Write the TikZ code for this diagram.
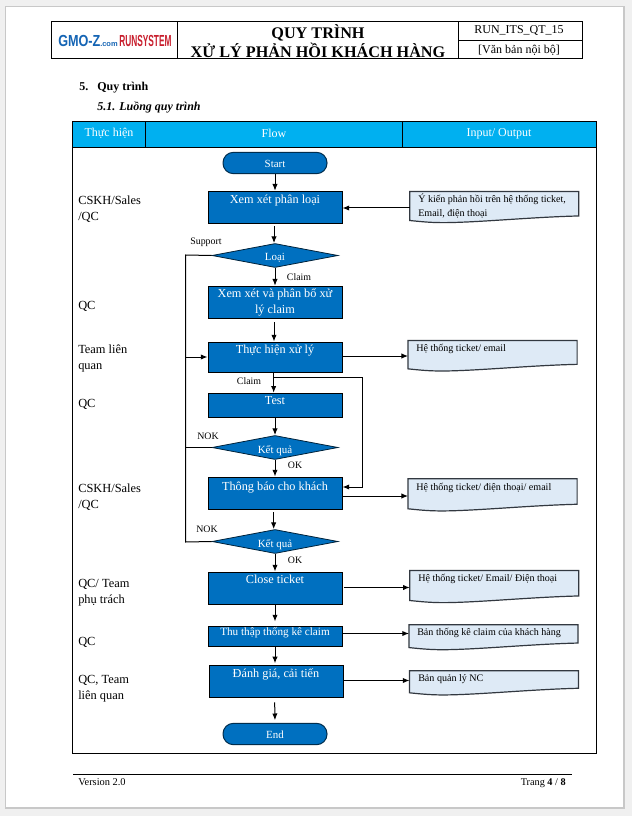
\documentclass[tikz,border=0pt]{standalone}
\usepackage{fontspec}
\setmainfont{Liberation Serif}
\newfontfamily\logofont{Liberation Sans}
\usetikzlibrary{arrows.meta,shapes.geometric}
\definecolor{procblue}{RGB}{0,112,192}
\definecolor{headblue}{RGB}{0,176,240}
\definecolor{docfill}{RGB}{222,234,246}
\definecolor{docline}{RGB}{50,56,64}
\definecolor{pagegray}{RGB}{240,240,240}
\definecolor{pageedge}{RGB}{200,200,200}
\definecolor{logoblue}{RGB}{20,100,180}
\definecolor{logored}{RGB}{200,30,45}
\tikzset{
  x=0.75pt,y=-0.75pt,
  grid line/.style={draw=black,line width=0.75pt},
  flow/.style={draw=black,line width=0.75pt,-{Latex[length=5pt,width=4pt]}},
  plainline/.style={draw=black,line width=0.75pt},
  proc/.style={rectangle,draw=black,fill=procblue,line width=0.75pt,inner sep=0pt,minimum width=100.5pt},
  deci/.style={diamond,draw=black!70!procblue,fill=procblue,line width=0.6pt,inner sep=0pt,aspect=5.2,minimum width=94.5pt,minimum height=18pt},
  term/.style={rectangle,rounded corners=7.8pt,draw=black!60!procblue,fill=procblue,line width=0.75pt,inner sep=0pt,minimum width=78pt,minimum height=16pt},
  wtext/.style={text=white,font=\fontsize{9.2pt}{11pt}\selectfont,inner sep=0pt,align=center},
  stext/.style={text=white,font=\fontsize{8.2pt}{9pt}\selectfont,inner sep=0pt},
  role/.style={anchor=north west,inner sep=0pt,align=left,font=\fontsize{9.3pt}{12pt}\selectfont},
  small/.style={inner sep=0pt,font=\fontsize{7.4pt}{8pt}\selectfont},
  docbox/.style={minimum width=126.4pt,inner sep=0pt},
  doctext/.style={anchor=west,inner sep=0pt,font=\fontsize{7.55pt}{10pt}\selectfont,align=left},
  headtext/.style={text=white,font=\fontsize{9pt}{11pt}\selectfont,inner sep=0pt},
}
\newcommand{\docpath}[1]{%
  \path[draw=docline,fill=docfill,line width=0.9pt]
    (#1.north west) -- (#1.north east) -- (#1.south east)
    .. controls ([xshift=-35pt,yshift=-0.8pt]#1.south east) and ([xshift=50pt,yshift=-5pt]#1.south west) ..
       ([xshift=25pt,yshift=-5pt]#1.south west)
    .. controls ([xshift=15pt,yshift=-5pt]#1.south west) and ([xshift=8pt,yshift=-4.2pt]#1.south west) ..
       ([yshift=-3.4pt]#1.south west) -- cycle;}
\begin{document}
\begin{tikzpicture}
\useasboundingbox (0,0) rectangle (632,816);
% page
\fill[pagegray] (0,0) rectangle (632,816);
\draw[fill=white,draw=pageedge,line width=0.9pt] (5.5,6.5) rectangle (624,808);
% title block
\node[rectangle,grid line,minimum width=398.25pt,minimum height=27.75pt,inner sep=0pt] (titleblock) at (316.5,40.5) {};
\draw[grid line] (177,22) -- (177,59) (458,22) -- (458,59) (458,40.5) -- (582,40.5);
\node[anchor=base west,inner sep=0pt,font=\logofont\bfseries\fontsize{12pt}{14pt}\selectfont,text=logoblue] (logoa) at (58,47) {\scalebox{0.79}[1]{GMO-Z}};
\node[anchor=base west,inner sep=0pt,font=\logofont\bfseries\fontsize{5.6pt}{7pt}\selectfont,text=logoblue] (logoc) at (100,47) {.com};
\node[anchor=base west,inner sep=0pt,font=\logofont\bfseries\fontsize{12pt}{14pt}\selectfont,text=logored] (logob) at (119,47) {\scalebox{0.52}[1]{RUNSYSTEM}};
\node[inner sep=0pt,font=\bfseries\fontsize{12.15pt}{14pt}\selectfont] (title1) at (318,32.5) {QUY TRÌNH};
\node[inner sep=0pt,font=\bfseries\fontsize{12.15pt}{14pt}\selectfont] (title2) at (318,50.5) {XỬ LÝ PHẢN HỒI KHÁCH HÀNG};
\node[inner sep=0pt,font=\fontsize{9pt}{11pt}\selectfont] (code) at (519,31) {RUN\_ITS\_QT\_15};
\node[inner sep=0pt,font=\fontsize{9pt}{11pt}\selectfont] (intern) at (519,50) {[Văn bản nội bộ]};
% section
\node[anchor=base west,inner sep=0pt,font=\bfseries\fontsize{9pt}{11pt}\selectfont] (sec) at (79,90.5) {5.};
\node[anchor=base west,inner sep=0pt,font=\bfseries\fontsize{9pt}{11pt}\selectfont] (sectitle) at (97,90.5) {Quy trình};
\node[anchor=base west,inner sep=0pt,font=\bfseries\itshape\fontsize{9pt}{11pt}\selectfont] (subsec) at (97,111) {5.1. Luồng quy trình};
% table
\fill[headblue] (72,122) rectangle (596,148);
\draw[grid line] (72,122) rectangle (596,753);
\draw[grid line] (72,148) -- (596,148) (145,122) -- (145,148) (402.5,122) -- (402.5,148);
\node[headtext] (h1) at (109,133) {Thực hiện};
\node[headtext] (h2) at (274,133.5) {Flow};
\node[headtext] (h3) at (499,133.5) {Input/ Output};
% roles
\node[role] (r1) at (78,196) {CSKH/Sales\\/QC};
\node[role] (r2) at (78,301) {QC};
\node[role] (r3) at (78,345) {Team liên\\quan};
\node[role] (r4) at (78,399) {QC};
\node[role] (r5) at (78,484) {CSKH/Sales\\/QC};
\node[role] (r6) at (78,579) {QC/ Team\\phụ trách};
\node[role] (r7) at (78,637) {QC};
\node[role] (r8) at (78,675) {QC, Team\\liên quan};
% process
\node[term] (start) at (275,163) {};
\node[stext] (startt) at (275,164) {Start};
\node[proc,minimum height=24.5pt] (p1) at (275,207.5) {};
\node[wtext] (p1t) at (275,200.5) {Xem xét phân loại};
\node[deci] (d1) at (275,255.5) {};
\node[stext] (d1t) at (275,257.5) {Loại};
\node[proc,minimum height=24.5pt] (p2) at (275,302.5) {};
\node[wtext] (p2t) at (275,302.5) {Xem xét và phân bổ xử\\[1pt]lý claim};
\node[proc,minimum height=22.5pt] (p3) at (275,357) {};
\node[wtext] (p3t) at (275,351) {Thực hiện xử lý};
\node[proc,minimum height=18.5pt] (p4) at (275,405.5) {};
\node[wtext] (p4t) at (275,401) {Test};
\node[deci] (d2) at (275,447.5) {};
\node[stext] (d2t) at (275,450.5) {Kết quả};
\node[proc,minimum height=24pt] (p5) at (275,493) {};
\node[wtext] (p5t) at (275,487.5) {Thông báo cho khách};
\node[deci] (d3) at (275,541.5) {};
\node[stext] (d3t) at (275,544.5) {Kết quả};
\node[proc,minimum height=24pt] (p6) at (275,588) {};
\node[wtext] (p6t) at (275,579) {Close ticket};
\node[proc,minimum height=15pt] (p7) at (275,636) {};
\node[wtext,font=\fontsize{8.4pt}{9pt}\selectfont] (p7t) at (275,633) {Thu thập thống kê claim};
\node[proc,minimum height=24.5pt] (p8) at (276,681.5) {};
\node[wtext] (p8t) at (276,674) {Đánh giá, cải tiến};
\node[term] (stop) at (275,734) {};
\node[stext] (stopt) at (275,735) {End};
% documents
\node[docbox,minimum height=18pt] (o1) at (494.25,203.7) {};
\node[docbox,minimum height=17.5pt] (o2) at (492.6,352.4) {};
\node[docbox,minimum height=18.75pt] (o3) at (492.6,491.5) {};
\node[docbox,minimum height=18.75pt] (o4) at (494.3,583.2) {};
\node[docbox,minimum height=13.3pt] (o5) at (493.5,633.9) {};
\node[docbox,minimum height=12.75pt] (o6) at (494,679.5) {};
\docpath{o1}\docpath{o2}\docpath{o3}\docpath{o4}\docpath{o5}\docpath{o6}
\node[doctext] (o1t) at (418,206) {Ý kiến phản hồi trên hệ thống ticket,\\Email, điện thoại};
\node[doctext] (o2t) at (416,348.5) {Hệ thống ticket/ email};
\node[doctext] (o3t) at (416,487.5) {Hệ thống ticket/ điện thoại/ email};
\node[doctext] (o4t) at (418,578.5) {Hệ thống ticket/ Email/ Điện thoại};
\node[doctext] (o5t) at (417,632.5) {Bản thống kê claim của khách hàng};
\node[doctext] (o6t) at (418,679.5) {Bản quản lý NC};
% connectors
\draw[flow] (start) -- (p1);
\draw[flow] ([xshift=-0.75pt]p1.south) ++(0,2) -- ([xshift=-0.75pt]d1.north);
\draw[flow] (d1) -- (p2);
\draw[flow] ([xshift=-0.75pt,yshift=-2pt]p2.south) -- ([xshift=-0.75pt]p3.north);
\draw[flow] ([xshift=-1pt]p3.south) -- ([xshift=-1pt]p4.north);
\draw[flow] (p4) -- (d2);
\draw[flow] (d2) -- (p5);
\draw[flow] ([xshift=-1pt,yshift=-2pt]p5.south) -- ([xshift=-1pt]d3.north);
\draw[flow] (d3) -- (p6);
\draw[flow,shorten >=3pt] (p6) -- (p7);
\draw[flow,shorten >=1pt] (p7) -- ([xshift=-0.75pt]p8.north);
\draw[flow,shorten >=2pt] ([xshift=-1pt,yshift=-3pt]p8.south) -- ([yshift=0pt]stop.north);
\coordinate (busx) at (185.5,0);
\coordinate (p3in) at (208,357);
\coordinate (loopup) at (185.5,255);
\coordinate (loopdown) at (185.5,542);
\draw[plainline] (d1.west) -- (loopup) -- (loopdown) -- (d3.west);
\draw[plainline] (d2.west) -- (busx |- d2.west);
\draw[flow] (loopup |- p3in) -- (p3.west |- p3in);
\coordinate (tapa) at (273.5,377);
\coordinate (tapb) at (362,377);
\coordinate (tapc) at (362,487);
\draw[flow] (tapa) -- (tapb) -- (tapc) -- (p5.east |- tapc);
% io arrows
\draw[flow] (o1.west |- 0,208) -- (p1.east |- 0,208);
\draw[flow] (p3.east |- 0,356) -- (o2.west |- 0,356);
\draw[flow] (p5.east |- 0,496) -- (o3.west |- 0,496);
\draw[flow,shorten <=1pt] (p6.east |- 0,587.5) -- (o4.west |- 0,587.5);
\draw[flow] (p7.east |- 0,633.5) -- (o5.west |- 0,633.5);
\draw[flow] (p8.east |- 0,680.5) -- (o6.west |- 0,680.5);
% labels
\node[small] (l1) at (206,242) {Support};
\node[small] (l2) at (299,277.5) {Claim};
\node[small] (l3) at (249,381) {Claim};
\node[small] (l4) at (208,436) {NOK};
\node[small] (l5) at (295,465) {OK};
\node[small] (l6) at (207,529) {NOK};
\node[small] (l7) at (295,560) {OK};
% footer
\draw[grid line] (73,774) -- (572,774);
\node[anchor=base west,inner sep=0pt,font=\fontsize{7.8pt}{9pt}\selectfont] (ver) at (78,785) {Version 2.0};
\node[anchor=base east,inner sep=0pt,font=\fontsize{7.7pt}{9pt}\selectfont] (pg) at (566,785) {Trang \textbf{4} / \textbf{8}};
\end{tikzpicture}
\end{document}
